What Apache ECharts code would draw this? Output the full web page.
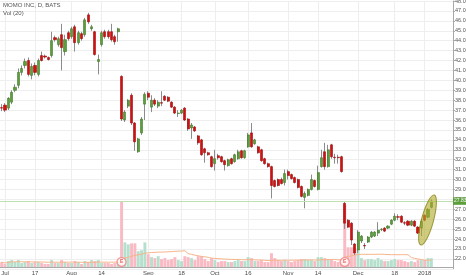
<!DOCTYPE html>
<html><head><meta charset="utf-8">
<script src="https://cdn.jsdelivr.net/npm/echarts@6/dist/echarts.min.js"></script>
<style>html,body{margin:0;padding:0;background:#fff}#c{width:466px;height:275px}</style>
</head><body><div id="c"></div>
<script>
const dates = ['2017-06-30',
'2017-07-03','2017-07-05','2017-07-06','2017-07-07','2017-07-10','2017-07-11','2017-07-12','2017-07-13','2017-07-14','2017-07-17','2017-07-18','2017-07-19','2017-07-20','2017-07-21','2017-07-24','2017-07-25','2017-07-26','2017-07-27','2017-07-28','2017-07-31',
'2017-08-01','2017-08-02','2017-08-03','2017-08-04','2017-08-07','2017-08-08','2017-08-09','2017-08-10','2017-08-11','2017-08-14','2017-08-15','2017-08-16','2017-08-17','2017-08-18','2017-08-21','2017-08-22','2017-08-23','2017-08-24','2017-08-25','2017-08-28','2017-08-29','2017-08-30','2017-08-31',
'2017-09-01','2017-09-05','2017-09-06','2017-09-07','2017-09-08','2017-09-11','2017-09-12','2017-09-13','2017-09-14','2017-09-15','2017-09-18','2017-09-19','2017-09-20','2017-09-21','2017-09-22','2017-09-25','2017-09-26','2017-09-27','2017-09-28','2017-09-29',
'2017-10-02','2017-10-03','2017-10-04','2017-10-05','2017-10-06','2017-10-09','2017-10-10','2017-10-11','2017-10-12','2017-10-13','2017-10-16','2017-10-17','2017-10-18','2017-10-19','2017-10-20','2017-10-23','2017-10-24','2017-10-25','2017-10-26','2017-10-27','2017-10-30','2017-10-31',
'2017-11-01','2017-11-02','2017-11-03','2017-11-06','2017-11-07','2017-11-08','2017-11-09','2017-11-10','2017-11-13','2017-11-14','2017-11-15','2017-11-16','2017-11-17','2017-11-20','2017-11-21','2017-11-22','2017-11-24','2017-11-27','2017-11-28','2017-11-29','2017-11-30',
'2017-12-01','2017-12-04','2017-12-05','2017-12-06','2017-12-07','2017-12-08','2017-12-11','2017-12-12','2017-12-13','2017-12-14','2017-12-15','2017-12-18','2017-12-19','2017-12-20','2017-12-21','2017-12-22','2017-12-26','2017-12-27','2017-12-28','2017-12-29',
'2018-01-02','2018-01-03','2018-01-04','2018-01-05','2018-01-08','2018-01-09','2018-01-10','2018-01-11','2018-01-12'];

const opens = [37.25,37.5,37.2,37.8,39.0,39.5,40.8,41.5,42.0,40.5,
41.5,40.6,42.5,42.45,42.3,42.5,44.3,43.6,44.6,42.9,
44.8,44.4,45.4,43.8,44.7,44.6,46.6,45.2,44.9,41.9,
43.6,44.9,44.9,44.9,44.4,44.9,40.4,36.0,37.4,38.5,
35.7,32.8,34.7,37.6,38.7,37.3,38.0,37.4,37.75,38.4,
38.3,37.8,37.3,36.65,36.7,37.2,36.1,35.2,35.3,34.4,
34.0,33.1,32.7,32.3,31.6,32.4,32.3,31.9,31.4,32.1,
31.8,32.1,32.9,32.2,33.3,34.7,33.6,33.3,33.0,32.1,
31.6,31.3,29.9,30.0,30.0,29.7,30.8,30.5,30.2,30.0,
29.3,28.2,28.4,29.0,29.9,29.0,31.3,32.8,31.3,33.5,
32.25,32.25,32.3,27.6,25.9,25.6,23.5,22.9,23.8,23.35,
23.7,24.2,24.3,24.6,24.95,25.1,25.1,25.5,25.9,26.25,
26.3,25.65,25.8,25.4,25.8,25.2,25.1,26.4,26.2,27.2];
const closes = [37.2,37.0,38.2,38.8,39.3,40.8,41.2,41.9,40.6,41.4,
40.8,42.0,42.0,42.35,42.1,44.0,44.1,44.2,43.3,44.1,
44.2,45.2,43.8,44.8,44.2,46.1,45.9,45.4,42.6,42.1,
44.8,44.4,44.4,44.1,43.9,45.2,36.1,36.8,38.0,35.7,
33.8,34.1,36.1,38.6,38.3,38.0,37.6,37.8,37.7,38.0,
37.9,37.3,36.7,36.7,37.0,36.0,35.1,35.5,34.9,33.7,
32.5,32.7,32.5,31.3,32.1,32.2,31.8,31.5,32.0,31.6,
32.5,32.8,32.2,32.9,34.5,33.3,34.0,32.7,31.9,31.6,
31.3,29.4,29.3,29.4,29.6,30.6,30.4,30.1,29.7,29.2,
28.3,28.6,29.0,30.0,29.3,30.7,32.2,31.3,33.0,32.3,
32.2,32.2,30.8,25.6,25.2,23.9,22.6,24.7,24.3,23.3,
24.2,24.7,24.7,24.9,25.0,24.8,25.3,25.9,26.3,26.2,
25.7,25.6,25.4,25.8,25.3,24.6,25.8,25.9,27.0,27.83];
const lows = [36.9,36.8,37.0,37.6,38.8,39.2,40.5,41.2,40.4,40.1,
40.5,40.4,41.9,42.2,42.0,42.3,43.9,43.4,41.0,42.5,
44.0,44.2,42.9,43.6,44.0,44.4,45.7,45.0,42.5,40.6,
43.4,44.2,44.2,43.9,43.6,43.9,35.9,35.8,37.2,35.5,
32.9,32.7,34.5,36.0,38.0,36.8,37.4,37.2,37.4,37.9,
37.8,37.2,36.6,36.3,36.6,35.9,34.9,34.1,34.8,33.5,
32.4,31.7,32.4,31.2,30.9,32.0,31.7,30.9,31.3,31.5,
31.7,32.0,32.1,32.1,33.2,33.2,33.5,32.6,31.8,31.5,
31.2,28.1,29.2,29.3,29.5,29.4,30.0,30.0,29.6,29.1,
28.2,27.1,28.3,28.9,29.2,28.9,31.2,31.0,31.2,32.1,
31.6,31.6,30.7,25.0,25.1,23.4,22.4,22.6,23.6,23.0,
23.6,24.1,24.2,24.3,24.8,24.7,25.0,25.4,25.8,25.9,
25.6,25.4,25.3,25.3,25.2,24.5,24.3,25.8,26.1,27.1];
const highs = [37.6,37.7,38.3,39.0,39.6,41.2,41.5,42.2,42.3,41.7,
41.8,42.2,42.9,42.6,42.4,44.9,44.5,44.4,45.7,44.6,
45.0,45.4,45.6,45.0,44.9,46.3,46.8,45.6,45.0,42.6,
45.0,45.1,45.1,45.7,44.6,45.3,40.5,37.0,38.1,38.7,
35.8,34.2,36.3,38.8,38.9,38.5,38.2,38.0,38.9,38.5,
38.4,37.9,37.4,37.0,37.1,37.3,36.2,35.7,35.4,34.5,
34.1,33.2,32.8,32.4,33.0,32.6,32.4,32.0,32.1,32.2,
32.6,33.0,33.0,33.0,34.7,35.7,34.1,33.4,33.1,32.2,
31.7,31.4,30.0,30.1,30.2,31.0,31.0,30.6,30.3,30.1,
29.4,28.8,29.1,30.5,30.0,31.4,33.0,33.7,33.5,33.6,
32.6,32.5,32.4,27.8,26.0,25.7,23.6,24.9,24.4,23.6,
24.3,24.8,24.8,25.7,25.1,25.2,25.4,26.0,26.6,26.5,
26.4,25.8,25.9,25.9,25.9,25.3,26.0,26.5,27.1,28.0];
const volumes = [2.5,1.5,3,3.5,2.5,3.5,2,2.5,3,2,
2.5,2.5,2,1.5,1.5,3.5,2,2,3.5,2.5,
2,2,3,2.5,1.5,3,2.5,3.5,3,3.5,
2,2,2,1.5,2,2.5,33.5,12.5,11.5,12,
12,8,8.5,12.5,6.5,5,4.5,5.5,4,4.5,
3.5,4,5,3.5,3,5.5,5,4.5,3.5,5.5,
5.5,4,3,4.5,3.5,2.5,3,3,2.5,2.5,
3,3.5,3,3,5,4.5,3,3,3.5,2.5,
2.5,7,4.5,3.5,3,3.5,3,2.5,3,3.5,
4,4,3.5,3.5,3,5,5,4.5,4,4,
3,2.5,4,31.5,10,10,9.5,9.5,4.5,3.5,
4,4,3.5,4.5,3.5,3,3,3.5,4,3.5,
3.5,3,2.5,3,2.5,3.5,3.5,3.5,4.5,4.5];
const tickDates = ['2017-07-03','2017-07-17','2017-08-01','2017-08-14','2017-09-01','2017-09-18','2017-10-02','2017-10-16','2017-11-01','2017-11-14','2017-12-01','2017-12-18','2018-01-02'];
const tickTexts = ['Jul','17','Aug','14','Sep','18','Oct','16','Nov','14','Dec','18','2018'];
const earningsDates = ['2017-08-22','2017-11-27'];
const lastPrice = 27.83;
const maLength = 20;
// annotation ellipse ends in data coords [category index, price]
const ellipseEnds = [[125.9, 23.5], [129.8, 28.35]];

const labelMap = {};
tickDates.forEach((d, i) => labelMap[d] = tickTexts[i]);
const isTick = (idx, val) => labelMap[val] !== undefined;

const wickData = opens.map((o, i) => [o, closes[i], lows[i], highs[i]]);
const bodyData = opens.map((o, i) => [o, closes[i], Math.min(o, closes[i]), Math.max(o, closes[i])]);
const volData = volumes.map((v, i) => ({
  value: v,
  itemStyle: { color: closes[i] >= opens[i] ? '#b6e0cd' : '#f9bac3' }
}));
const volMA = volumes.map((v, i) => {
  const s = Math.max(0, i - maLength + 1);
  const w = volumes.slice(s, i + 1);
  return +(w.reduce((a, b) => a + b, 0) / w.length).toFixed(3);
});

const FONT = 'Liberation Sans, Arial, sans-serif';
const chart = echarts.init(document.getElementById('c'), null, { renderer: 'canvas' });
chart.setOption({
  animation: false,
  backgroundColor: '#ffffff',
  title: {
    text: 'MOMO INC, D, BATS',
    subtext: 'Vol (20)',
    left: 3, top: 2, itemGap: 2,
    textStyle: { fontSize: 6, fontWeight: 'normal', color: '#555555', fontFamily: FONT },
    subtextStyle: { fontSize: 6, color: '#555555', fontFamily: FONT },
    padding: 0
  },
  grid: [
    { left: 0, right: 13, top: 1, bottom: 6.2, outerBoundsMode: 'none', containLabel: false },
    { left: 0, right: 13, top: 200, bottom: 8, outerBoundsMode: 'none', containLabel: false }
  ],
  xAxis: [
    {
      type: 'category', gridIndex: 0, data: dates, boundaryGap: true,
      axisLine: { show: false }, axisTick: { show: false }, axisLabel: { show: false },
      splitLine: { show: true, interval: isTick, alignWithLabel: true, lineStyle: { color: '#eeeeee', width: 1 } }
    },
    {
      type: 'category', gridIndex: 1, data: dates, boundaryGap: true,
      axisLine: { show: true, lineStyle: { color: '#a8a8a8' } },
      axisTick: { show: false },
      axisLabel: { show: true, interval: isTick, formatter: v => labelMap[v] || '', fontSize: 6, color: '#4a4a4a', margin: 3, fontFamily: FONT },
      splitLine: { show: false }
    }
  ],
  yAxis: [
    {
      type: 'value', gridIndex: 0, position: 'right', min: 21, max: 48, interval: 1,
      axisLine: { show: true, lineStyle: { color: '#a8a8a8' } },
      axisTick: { show: true, length: 2, lineStyle: { color: '#a8a8a8' } },
      axisLabel: { fontSize: 5.5, color: '#555555', margin: 2, showMinLabel: false, formatter: v => v.toFixed(2), fontFamily: FONT },
      splitLine: { show: true, lineStyle: { color: '#eeeeee', width: 1 } }
    },
    {
      type: 'value', gridIndex: 1, min: 0, max: 34, show: false,
      axisLine: { show: false }, axisLabel: { show: false }, splitLine: { show: false }
    }
  ],
  series: [
    {
      type: 'bar', name: 'Volume', xAxisIndex: 1, yAxisIndex: 1, data: volData,
      barCategoryGap: '12%', z: 1
    },
    {
      type: 'line', name: 'Vol MA', xAxisIndex: 1, yAxisIndex: 1, data: volMA,
      symbol: 'none', lineStyle: { color: '#f7b48a', width: 1 }, z: 2
    },
    {
      type: 'candlestick', name: 'wick', xAxisIndex: 0, yAxisIndex: 0, data: wickData,
      barWidth: 1,
      itemStyle: { color: '#8c8c8c', color0: '#8c8c8c', borderColor: '#8c8c8c', borderColor0: '#8c8c8c', borderWidth: 1 },
      z: 3
    },
    {
      type: 'candlestick', name: 'MOMO', xAxisIndex: 0, yAxisIndex: 0, data: bodyData,
      barWidth: 2.6,
      itemStyle: { color: '#5c9d3c', color0: '#d50f0f', borderColor: '#3f7a28', borderColor0: '#9e0b0b', borderWidth: 0.6 },
      markLine: {
        silent: true, symbol: ['none', 'none'],
        lineStyle: { color: '#bfe0b0', width: 1, type: 'solid' },
        label: {
          show: true, position: 'end', distance: 0, formatter: lastPrice.toFixed(2),
          backgroundColor: '#5c9d3c', color: '#ffffff', fontSize: 5, padding: [1.5, 0.5, 1, 1], fontFamily: FONT
        },
        data: [{ yAxis: lastPrice }]
      },
      z: 4
    },
    {
      type: 'scatter', name: 'Earnings', xAxisIndex: 1, yAxisIndex: 1,
      data: earningsDates.map(d => [d, 2.6]),
      symbol: 'circle', symbolSize: 9,
      itemStyle: { color: '#ffffff', borderColor: '#f08a8a', borderWidth: 1.5 },
      label: { show: true, position: 'inside', formatter: 'E', fontSize: 5, fontWeight: 'bold', color: '#e53935', fontFamily: FONT },
      z: 6
    }
  ]
});

function toPx(pt) {
  const i0 = Math.floor(pt[0]), f = pt[0] - i0;
  const a = chart.convertToPixel({ xAxisIndex: 0 }, dates[i0]);
  const b = chart.convertToPixel({ xAxisIndex: 0 }, dates[i0 + 1]);
  const y = chart.convertToPixel({ yAxisIndex: 0 }, pt[1]);
  return [a + f * (b - a), y];
}
const p1 = toPx(ellipseEnds[0]);
const p2 = toPx(ellipseEnds[1]);
const cx = (p1[0] + p2[0]) / 2, cy = (p1[1] + p2[1]) / 2;
const len = Math.hypot(p2[0] - p1[0], p2[1] - p1[1]);
const ang = Math.atan2(-(p2[1] - p1[1]), p2[0] - p1[0]);
chart.setOption({
  graphic: [{
    type: 'ellipse', x: cx, y: cy, rotation: ang, z: 100,
    shape: { cx: 0, cy: 0, rx: len / 2 + 1, ry: 6 },
    style: { fill: 'rgba(176,170,42,0.6)', stroke: 'rgba(140,136,30,0.85)', lineWidth: 1 }
  }]
});
</script>
</body></html>
